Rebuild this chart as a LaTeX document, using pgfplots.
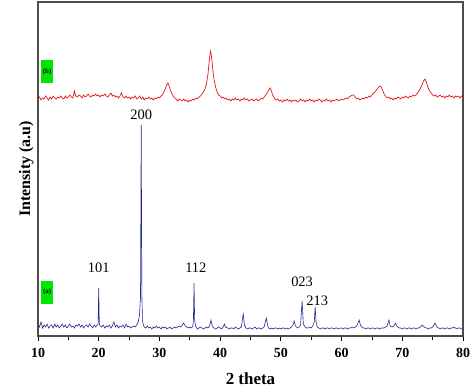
\documentclass[border=0pt]{standalone}
\usepackage{pgfplots}
\pgfplotsset{compat=1.18}
\usepackage{fontspec}
\setmainfont{Liberation Serif}
\definecolor{xrdblue}{RGB}{35,45,140}
\definecolor{xrdred}{RGB}{225,25,30}
\definecolor{boxgreen}{RGB}{0,230,0}
\begin{document}
\begin{tikzpicture}
\begin{axis}[name=ax,
  scale only axis, width=425bp, height=334bp,
  xmin=10, xmax=80, ymin=0, ymax=334,
  xtick={10,20,...,80}, minor x tick num=1,
  ytick=\empty,
  tick align=outside, xtick pos=bottom,
  major tick length=5bp, minor tick length=4bp,
  axis line style={black!70, line width=1.1pt},
  every tick/.style={black, line width=0.8pt},
  /pgf/number format/assume math mode=true,
  xticklabel style={font=\bfseries\fontsize{14}{14}\selectfont, yshift=-4bp},
  xlabel={\textbf{2 theta}},
  xlabel style={font=\bfseries\fontsize{17}{17}\selectfont, yshift=-8bp},
  ylabel={\textbf{Intensity (a.u)}},
  ylabel style={font=\bfseries\fontsize{16}{16}\selectfont, yshift=-4bp},
  clip=true,
]
\addplot[xrdblue, line width=0.6pt] table {
10.00 12
10.25 9
10.50 14
10.75 8
11.00 11
11.25 9
11.50 12
11.75 8
12.00 10
12.25 11
12.50 8
12.75 12
13.00 9
13.25 11
13.50 8
13.75 10
14.00 12
14.25 9
14.50 11
14.75 8
15.00 10
15.25 12
15.50 9
15.75 10
16.00 8
16.25 11
16.50 10
16.75 12
17.00 9
17.25 11
17.50 8
17.75 10
18.00 11
18.25 9
18.50 12
18.75 10
19.00 8
19.25 11
19.50 9
19.75 11
19.90 12
20.00 48
20.10 12
20.25 10
20.50 9
20.75 11
21.00 8
21.25 10
21.50 9
21.75 11
22.00 8
22.25 10
22.50 14
22.75 9
23.00 11
23.25 8
23.50 10
23.75 9
24.00 11
24.25 8
24.50 12
24.75 9
25.00 10
25.25 8
25.50 9
25.75 10
26.00 9
26.25 11
26.50 14
26.70 20
26.88 38
27.00 211
27.10 45
27.20 16
27.35 11
27.50 9
27.75 8
28.00 10
28.25 8
28.50 9
28.75 7
29.00 9
29.25 8
29.50 10
29.75 8
30.00 9
30.25 7
30.50 9
30.75 8
31.00 9
31.25 7
31.50 8
31.75 9
32.00 7
32.25 8
32.50 9
32.75 8
33.00 9
33.25 10
33.50 9
33.75 11
34.00 13
34.25 10
34.50 9
34.75 8
35.00 9
35.25 8
35.50 10
35.60 16
35.70 53
35.80 16
35.95 10
36.25 7
36.50 8
36.75 9
37.00 8
37.25 7
37.50 8
37.75 9
38.00 8
38.25 10
38.50 16
38.70 10
39.00 8
39.25 7
39.50 8
39.75 9
40.00 8
40.25 7
40.50 9
40.70 12
40.90 9
41.25 8
41.50 7
41.75 8
42.00 8
42.25 7
42.50 9
42.75 8
43.00 7
43.25 8
43.50 9
43.80 22
44.00 11
44.25 8
44.50 7
44.75 8
45.00 8
45.25 7
45.50 8
45.75 9
46.00 7
46.25 8
46.50 8
46.75 7
47.00 8
47.25 9
47.60 18
47.85 10
48.00 8
48.25 7
48.50 8
48.75 7
49.00 8
49.25 8
49.50 7
49.75 8
50.00 7
50.25 8
50.50 8
50.75 7
51.00 8
51.25 7
51.50 8
51.75 9
52.00 11
52.20 15
52.40 10
52.75 8
53.00 9
53.25 11
53.50 35
53.70 12
54.00 9
54.25 8
54.50 8
54.75 9
55.00 8
55.25 10
55.50 14
55.65 29
55.80 14
56.00 9
56.25 8
56.50 7
56.75 8
57.00 8
57.25 7
57.50 8
57.75 8
58.00 7
58.25 8
58.50 8
58.75 7
59.00 8
59.25 8
59.50 7
59.75 8
60.00 8
60.25 7
60.50 8
60.75 8
61.00 7
61.25 8
61.50 8
61.75 9
62.00 8
62.25 9
62.50 10
62.90 16
63.10 11
63.50 8
63.75 8
64.00 7
64.25 8
64.50 8
64.75 7
65.00 8
65.25 8
65.50 7
65.75 8
66.00 8
66.25 7
66.50 8
66.75 8
67.00 8
67.25 9
67.50 10
67.80 16
68.00 10
68.30 9
68.60 10
68.90 13
69.10 10
69.50 8
69.75 8
70.00 7
70.25 8
70.50 8
70.75 7
71.00 8
71.25 8
71.50 7
71.75 8
72.00 8
72.25 7
72.50 8
72.75 8
73.00 9
73.30 11
73.60 9
74.00 8
74.25 7
74.50 8
74.75 8
75.00 9
75.40 13
75.70 9
76.00 8
76.25 7
76.50 8
76.75 8
77.00 7
77.25 8
77.50 8
77.75 7
78.00 8
78.25 8
78.50 9
78.75 8
79.00 7
79.25 8
79.50 8
79.75 7
80.00 7
};
\addplot[xrdred, line width=0.7pt] table {
10.00 237
10.25 239
10.50 236
10.75 238
11.00 237
11.25 240
11.50 238
11.75 236
12.00 239
12.25 237
12.50 240
12.75 238
13.00 237
13.25 239
13.50 238
13.75 240
14.00 238
14.25 237
14.50 240
14.75 238
15.00 239
15.25 241
15.50 239
15.75 238
16.00 245
16.20 240
16.50 239
16.75 241
17.00 240
17.25 238
17.50 241
17.75 239
18.00 240
18.25 242
18.50 240
18.75 239
19.00 241
19.25 240
19.50 242
19.75 240
20.00 241
20.25 239
20.50 241
20.75 240
21.00 242
21.25 240
21.50 239
21.75 241
22.00 243
22.25 240
22.50 241
22.75 239
23.00 240
23.25 238
23.50 240
23.75 243
24.00 239
24.25 238
24.50 240
24.75 238
25.00 239
25.25 237
25.50 239
25.75 238
26.00 240
26.25 237
26.50 238
26.75 240
27.00 237
27.25 239
27.50 236
27.75 238
28.00 237
28.25 239
28.50 237
28.75 238
29.00 236
29.25 238
29.50 237
29.75 239
30.00 238
30.25 240
30.50 241
30.75 244
31.00 248
31.20 251
31.40 253
31.60 250
31.80 246
32.00 243
32.25 240
32.50 238
32.75 237
33.00 235
33.25 237
33.50 236
33.75 235
34.00 237
34.25 235
34.50 236
34.75 234
35.00 236
35.25 235
35.50 237
35.75 236
36.00 238
36.25 237
36.50 239
36.75 240
37.00 242
37.25 244
37.50 247
37.75 252
38.00 262
38.15 272
38.30 280
38.45 285
38.60 278
38.80 266
39.00 256
39.25 249
39.50 244
39.75 241
40.00 240
40.25 238
40.50 239
40.75 237
41.00 238
41.25 236
41.50 237
41.75 235
42.00 237
42.25 236
42.50 238
42.75 236
43.00 237
43.25 235
43.50 237
43.75 236
44.00 238
44.25 236
44.50 237
44.75 235
45.00 236
45.25 237
45.50 235
45.75 236
46.00 237
46.25 235
46.50 236
46.75 238
47.00 237
47.25 239
47.50 241
47.75 243
48.00 246
48.25 248
48.45 245
48.65 241
48.85 239
49.00 237
49.25 236
49.50 237
49.75 235
50.00 236
50.25 234
50.50 236
50.75 235
51.00 237
51.25 235
51.50 236
51.75 234
52.00 236
52.25 235
52.50 236
52.75 234
53.00 235
53.25 237
53.50 235
53.75 236
54.00 234
54.25 236
54.50 235
54.75 237
55.00 235
55.25 236
55.50 234
55.75 236
56.00 235
56.25 237
56.50 236
56.75 234
57.00 236
57.25 235
57.50 237
57.75 235
58.00 236
58.25 234
58.50 236
58.75 235
59.00 236
59.25 237
59.50 235
59.75 236
60.00 237
60.25 236
60.50 237
60.75 238
61.00 237
61.25 239
61.50 240
61.75 241
62.00 241
62.25 239
62.50 237
62.75 238
63.00 236
63.25 237
63.50 238
63.75 237
64.00 239
64.25 238
64.50 240
64.75 239
65.00 241
65.25 243
65.50 244
65.75 246
66.00 248
66.30 250
66.50 249
66.75 246
67.00 242
67.25 240
67.50 238
67.75 239
68.00 237
68.25 238
68.50 236
68.75 238
69.00 237
69.25 239
69.50 238
69.75 237
70.00 239
70.25 238
70.50 240
70.75 239
71.00 238
71.25 240
71.50 239
71.75 241
72.00 240
72.25 241
72.50 243
72.75 245
73.00 248
73.25 251
73.50 255
73.75 257
73.95 254
74.15 250
74.40 246
74.75 243
75.00 241
75.25 240
75.50 241
75.75 239
76.00 240
76.25 241
76.50 239
76.75 240
77.00 238
77.25 240
77.50 239
77.75 241
78.00 239
78.25 240
78.50 238
78.75 240
79.00 239
79.25 240
79.50 238
79.75 240
80.00 239
};
\node[font=\fontsize{14.5}{14.5}\selectfont] at (axis cs:27.0,221) {200};
\node[font=\fontsize{14.5}{14.5}\selectfont] at (axis cs:20.0,68) {101};
\node[font=\fontsize{14.5}{14.5}\selectfont] at (axis cs:36.0,68) {112};
\node[font=\fontsize{14.5}{14.5}\selectfont] at (axis cs:53.5,54) {023};
\node[font=\fontsize{14.5}{14.5}\selectfont] at (axis cs:56.0,35) {213};
\node[fill=boxgreen, minimum width=12bp, minimum height=23bp, inner sep=0pt,
  font=\bfseries\fontsize{7}{7}\selectfont] at (axis cs:11.5,264) {(b)};
\node[fill=boxgreen, minimum width=12bp, minimum height=23bp, inner sep=0pt,
  font=\bfseries\fontsize{7}{7}\selectfont] at (axis cs:11.5,44) {(a)};
\end{axis}
\pgfresetboundingbox
\path ([shift={(-38bp,-52bp)}]ax.south west) rectangle ([shift={(11bp,2bp)}]ax.north east);
\end{tikzpicture}
\end{document}
